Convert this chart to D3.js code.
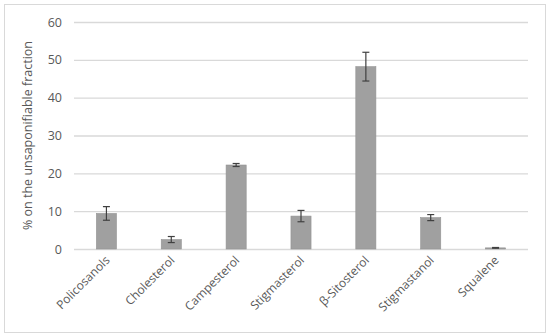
<!DOCTYPE html>
<html>
<head>
<meta charset="utf-8">
<script src="https://cdn.jsdelivr.net/npm/d3@7"></script>
<style>
  body { margin: 0; background: #fff; }
  text { font-family: "Open Sans", "Liberation Sans", sans-serif; }
</style>
</head>
<body>
<div id="chart"></div>
<script>
// data
var categories = ["Policosanols", "Cholesterol", "Campesterol", "Stigmasterol", "\u03B2-Sitosterol", "Stigmastanol", "Squalene"];
var values     = [9.4, 2.5, 22.2, 8.7, 48.2, 8.3, 0.3];
var errors     = [1.8, 0.8, 0.4, 1.5, 3.8, 0.8, 0.1];
var yTicks     = [0, 10, 20, 30, 40, 50, 60];

var width = 550, height = 336;
var margin = {top: 22, right: 22, bottom: 87, left: 74};

var bar_color   = "#a0a0a0";
var err_color   = "#404040";
var grid_color  = "#d9d9d9";
var text_color  = "#595959";

var data = categories.map(function(c, i) { return {name: c, v: values[i], e: errors[i]}; });

var svg = d3.select("#chart").append("svg")
            .attr("width", width)
            .attr("height", height);

// outer frame
svg.append("rect")
   .attr("x", 4.5).attr("y", 4.5)
   .attr("width", width - 9).attr("height", height - 8)
   .attr("fill", "none")
   .attr("stroke", grid_color);

var x = d3.scaleBand()
          .domain(categories)
          .range([margin.left, width - margin.right])
          .paddingInner(0.69)
          .paddingOuter(0.345);

var y = d3.scaleLinear()
          .domain([0, 60])
          .range([height - margin.bottom, margin.top]);

// gridlines + tick labels
var yAxis = svg.append("g")
               .attr("transform", "translate(" + margin.left + ",0)")
               .call(d3.axisLeft(y).tickValues(yTicks).tickSize(-(width - margin.left - margin.right)).tickPadding(12));
yAxis.select(".domain").remove();
yAxis.selectAll("line").attr("stroke", grid_color).attr("stroke-width", 1.3);
yAxis.selectAll("text").attr("fill", text_color).style("font-size", "12.5px");

// bars
svg.append("g").selectAll("rect")
   .data(data)
   .enter().append("rect")
   .attr("x", function(d) { return x(d.name); })
   .attr("y", function(d) { return y(d.v); })
   .attr("width", x.bandwidth())
   .attr("height", function(d) { return y(0) - y(d.v); })
   .attr("fill", bar_color)
   .attr("stroke", "#939393")
   .attr("stroke-width", 0.6);

// error bars
var eb = svg.append("g").selectAll("g")
            .data(data)
            .enter().append("g")
            .attr("stroke", err_color)
            .attr("stroke-width", 1.2);
eb.append("line")
  .attr("x1", function(d) { return x(d.name) + x.bandwidth() / 2; })
  .attr("x2", function(d) { return x(d.name) + x.bandwidth() / 2; })
  .attr("y1", function(d) { return y(d.v + d.e); })
  .attr("y2", function(d) { return y(d.v - d.e); });
eb.selectAll("line.cap")
  .data(function(d) { return [d.v + d.e, d.v - d.e].map(function(t) { return {name: d.name, t: t}; }); })
  .enter().append("line")
  .attr("class", "cap")
  .attr("x1", function(d) { return x(d.name) + x.bandwidth() / 2 - 3.5; })
  .attr("x2", function(d) { return x(d.name) + x.bandwidth() / 2 + 3.5; })
  .attr("y1", function(d) { return y(d.t); })
  .attr("y2", function(d) { return y(d.t); });

// category labels, rotated
svg.append("g").selectAll("text")
   .data(categories)
   .enter().append("text")
   .attr("transform", function(d) { return "translate(" + (x(d) + x.bandwidth() / 2 + 4) + "," + (y(0) + 12) + ") rotate(-45)"; })
   .attr("text-anchor", "end")
   .attr("fill", text_color)
   .style("font-size", "12px")
   .text(function(d) { return d; });

// y axis title
svg.append("text")
   .attr("transform", "translate(32," + ((margin.top + height - margin.bottom) / 2) + ") rotate(-90)")
   .attr("text-anchor", "middle")
   .attr("fill", text_color)
   .style("font-size", "12.5px")
   .text("% on the unsaponifiable fraction");
</script>
</body>
</html>
